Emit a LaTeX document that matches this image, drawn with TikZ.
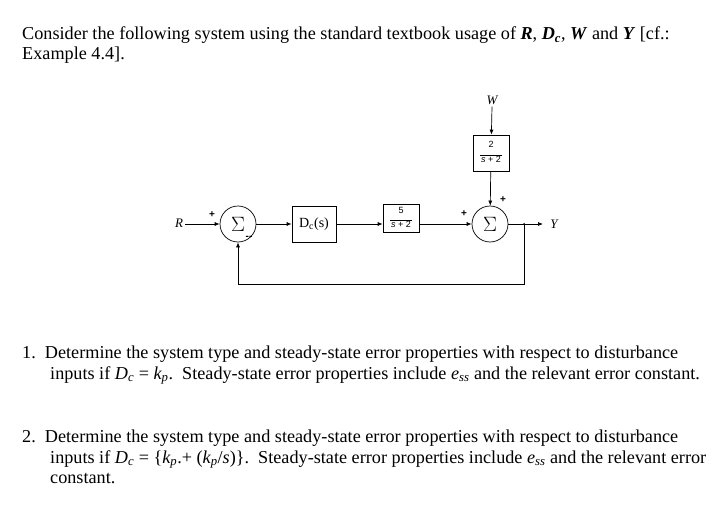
\documentclass[tikz,border=0pt]{standalone}
\usepackage{fontspec}
\setmainfont{Liberation Serif}
\newfontfamily\sansf{Liberation Sans}
\usetikzlibrary{arrows.meta}
\newcommand{\myfrac}[2]{\begin{tabular}{@{}c@{}}#1\\[-3pt]\rule{22pt}{0.5pt}\\[-3pt]#2\end{tabular}}
\begin{document}
\begin{tikzpicture}[x=1pt,y=-1pt,
 txt/.style={anchor=base west,inner sep=0,font=\fontsize{18.2}{20}\selectfont},
 blk/.style={draw,line width=0.7pt,minimum width=36,minimum height=28,inner sep=0},
 sumn/.style={draw,circle,line width=0.7pt,minimum size=36,inner sep=0,font=\fontsize{22}{22}\selectfont},
 sig/.style={font=\sansf\bfseries\fontsize{10}{10}\selectfont,inner sep=0},
 fr/.style={font=\sansf\fontsize{9}{10}\selectfont},
 ar/.style={-{Latex[length=5pt,width=4pt]},line width=0.7pt},
 ln/.style={line width=0.7pt}]
\fill[white] (0,0) rectangle (728,532);
\node[txt] (t1) at (22,40) {Consider the following system using the standard textbook usage of \textbf{\textit{R}}, \textbf{\textit{D\textsubscript{c}}}, \textbf{\textit{W}} and \textbf{\textit{Y}} [cf.:};
\node[txt] (t2) at (22,60) {Example 4.4].};
\node[txt] (q1a) at (22,358) {1.\ \ Determine the system type and steady-state error properties with respect to disturbance};
\node[txt] (q1b) at (50,379) {inputs if \textit{D\textsubscript{c}} = \textit{k\textsubscript{p}}.\ \ Steady-state error properties include \textit{e\textsubscript{ss}} and the relevant error constant.};
\node[txt] (q2a) at (22,442) {2.\ \ Determine the system type and steady-state error properties with respect to disturbance};
\node[txt] (q2b) at (50,463) {inputs if \textit{D\textsubscript{c}} = \{\textit{k\textsubscript{p}}.+ (\textit{k\textsubscript{p}}/\textit{s})\}.\ \ Steady-state error properties include \textit{e\textsubscript{ss}} and the relevant error};
\node[txt] (q2c) at (50,483) {constant.};

\node[sumn] (s1) at (238,224) {$\Sigma$};
\node[blk,minimum width=44,minimum height=36,font=\fontsize{14}{14}\selectfont] (dc) at (314,224) {D\textsubscript{c}(s)};
\node[blk,fr] (g) at (401,218) {\myfrac{5}{\textit{s} + 2}};
\node[sumn] (s2) at (490,224) {$\Sigma$};
\node[blk,minimum height=36,fr] (h) at (491,153) {\myfrac{2}{\textit{s} + 2}};
\node[inner sep=0,font=\itshape\fontsize{13}{13}\selectfont] (W) at (492,100) {W};
\node[inner sep=0,font=\itshape\fontsize{13}{13}\selectfont] (R) at (179,223) {R};
\node[inner sep=0,font=\itshape\fontsize{13}{13}\selectfont] (Y) at (554,224) {Y};
\coordinate (Rs) at (185,224);
\coordinate (br) at (524,224);
\coordinate (ye) at (543,224);
\coordinate (fb) at (238,284);

\draw[ar] (Rs) -- (s1);
\draw[ar] (s1) -- (dc);
\draw[ar] (dc) -- (g.west |- dc);
\draw[ar] (g.east |- s2) -- (s2);
\draw[ln] (g.east |- s2) -- (g.east |- g.center);
\draw[ar] (W.south) ++(0,2) -- (h);
\draw[ar] (h) -- (s2);
\draw[ar] (s2) -- (ye);
\draw[ln] (br) |- (fb);
\draw[ar] (fb) -- (s1);
\fill (br) circle (1pt);

\node[sig] at (212,215) {+};
\node[sig] at (249,238) {--};
\node[sig] at (464,214) {+};
\node[sig] at (503,200) {+};
\end{tikzpicture}
\end{document}
